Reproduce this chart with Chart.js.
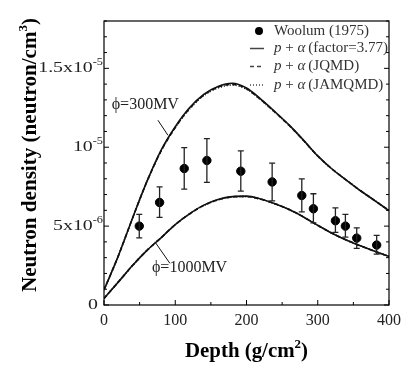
<!DOCTYPE html>
<html>
<head>
<meta charset="utf-8">
<script src="https://cdn.jsdelivr.net/npm/chart.js@4/dist/chart.umd.min.js"></script>
<style>
  html, body { margin: 0; padding: 0; background: #fff; }
  #wrap { width: 404px; height: 377px; }
</style>
</head>
<body>
<div id="wrap"><canvas id="c" width="404" height="377"></canvas></div>
<script>
// values in units of 10^-6 neutron/cm^3
const depthGrid = [0, 20, 40, 60, 80, 100, 120, 140, 160, 180, 200, 220, 240, 260, 280, 300, 320, 340, 360, 380, 400];

const fit300    = [0.95, 3.1, 5.5, 7.8, 9.8, 11.3, 12.5, 13.35, 13.85, 14.05, 13.75, 13.05, 12.25, 11.4, 10.45, 9.45, 8.62, 7.92, 7.24, 6.62, 5.98];
const jqmd300   = [0.95, 3.1, 5.5, 7.8, 9.75, 11.25, 12.45, 13.3, 13.8, 13.98, 13.7, 13.02, 12.22, 11.38, 10.43, 9.44, 8.62, 7.92, 7.24, 6.62, 5.98];
const jamqmd300 = [0.95, 3.1, 5.5, 7.8, 9.75, 11.25, 12.42, 13.27, 13.76, 13.94, 13.68, 13.0, 12.2, 11.37, 10.43, 9.44, 8.62, 7.92, 7.24, 6.62, 5.98];

const fit1000    = [0.42, 1.45, 2.5, 3.45, 4.26, 5.1, 5.78, 6.33, 6.69, 6.87, 6.9, 6.72, 6.42, 6.05, 5.58, 5.05, 4.55, 4.12, 3.75, 3.4, 3.08];
const jqmd1000   = [0.42, 1.45, 2.5, 3.45, 4.26, 5.1, 5.77, 6.31, 6.67, 6.85, 6.88, 6.71, 6.42, 6.05, 5.58, 5.05, 4.55, 4.12, 3.75, 3.4, 3.08];
const jamqmd1000 = [0.42, 1.45, 2.5, 3.45, 4.26, 5.1, 5.77, 6.3, 6.66, 6.84, 6.87, 6.7, 6.41, 6.04, 5.58, 5.05, 4.55, 4.12, 3.75, 3.4, 3.08];

const woolumDepth = [49.5, 78, 112.6, 144.4, 192, 236, 277.6, 293.9, 324.8, 338.8, 354.7, 382.7];
const woolumValue = [5.0, 6.5, 8.65, 9.16, 8.48, 7.8, 6.94, 6.1, 5.34, 5.0, 4.24, 3.8];
const woolumLow   = [4.25, 5.55, 7.34, 7.77, 7.22, 6.6, 5.9, 5.2, 4.6, 4.3, 3.59, 3.23];
const woolumHigh  = [5.74, 7.49, 9.98, 10.55, 9.77, 8.99, 8.0, 7.05, 6.16, 5.74, 4.89, 4.41];

const xTickValues = [0, 100, 200, 300, 400];
const yTickValues = [0, 5, 10, 15];
const yTickMant = ['0', '5x10', '10', '1.5x10'];
const yTickExp  = ['', '-6', '-5', '-5'];

const legendLabels = ['Woolum (1975)', '(factor=3.77)', '(JQMD)', '(JAMQMD)'];

// label anchors in data units
const notes = [
  { text: 'ϕ=300MV',  x: 10.8, y: 12.66, from: [75.7, 11.71], to: [89.7, 10.76] },
  { text: 'ϕ=1000MV', x: 67.3, y: 2.34,  from: [71.5, 4.0],   to: [92.5, 2.64] }
];

const SERIF = "'Liberation Serif', 'Times New Roman', serif";

function pts(xs, ys) { return xs.map((x, i) => ({ x: x, y: ys[i] })); }

function curve(data, dash) {
  return {
    type: 'line', data: pts(depthGrid, data), borderColor: '#111', borderWidth: 1.6,
    borderDash: dash, pointRadius: 0, fill: false, cubicInterpolationMode: 'monotone', order: 2
  };
}

// draw text segments with optional superscript / italic; sx stretches horizontally
function rich(ctx, parts, x, y, size, weight, align, sx) {
  sx = sx || 1;
  let w = 0;
  const fonts = parts.map(p => {
    const s = p.sup ? size * 0.62 : size;
    return (p.it ? 'italic ' : '') + (weight || 'normal') + ' ' + s + 'px ' + SERIF;
  });
  parts.forEach((p, i) => { ctx.font = fonts[i]; w += ctx.measureText(p.t).width; });
  w *= sx;
  const left = align === 'right' ? x - w : align === 'center' ? x - w / 2 : x;
  ctx.save();
  ctx.translate(left, y);
  ctx.scale(sx, 1);
  ctx.textBaseline = 'middle';
  ctx.textAlign = 'left';
  let cx = 0;
  parts.forEach((p, i) => {
    ctx.font = fonts[i];
    ctx.fillText(p.t, cx, p.sup ? -size * 0.36 : 0);
    cx += ctx.measureText(p.t).width;
  });
  ctx.restore();
}

const decor = {
  id: 'decor',
  afterDraw(chart) {
    const ctx = chart.ctx, a = chart.chartArea;
    const xs = chart.scales.x, ys = chart.scales.y;
    ctx.save();

    // error bars
    ctx.strokeStyle = '#222';
    ctx.lineWidth = 1.3;
    woolumDepth.forEach((d, i) => {
      const px = xs.getPixelForValue(d);
      const y1 = ys.getPixelForValue(woolumLow[i]), y2 = ys.getPixelForValue(woolumHigh[i]);
      ctx.beginPath();
      ctx.moveTo(px, y1); ctx.lineTo(px, y2);
      ctx.moveTo(px - 3, y1); ctx.lineTo(px + 3, y1);
      ctx.moveTo(px - 3, y2); ctx.lineTo(px + 3, y2);
      ctx.stroke();
    });

    // frame
    ctx.strokeStyle = '#000';
    ctx.lineWidth = 1.2;
    ctx.strokeRect(a.left, a.top, a.right - a.left, a.bottom - a.top);

    // inward ticks
    ctx.lineWidth = 1;
    for (let v = 0; v <= 400; v += 50) {
      const px = xs.getPixelForValue(v), len = v % 100 === 0 ? 5 : 3;
      ctx.beginPath(); ctx.moveTo(px, a.bottom); ctx.lineTo(px, a.bottom - len); ctx.stroke();
    }
    for (let v = 0; v <= 18; v += 1) {
      const py = ys.getPixelForValue(v), len = v % 5 === 0 ? 5 : 3;
      ctx.beginPath();
      ctx.moveTo(a.left, py); ctx.lineTo(a.left + len, py);
      ctx.moveTo(a.right, py); ctx.lineTo(a.right - len, py);
      ctx.stroke();
    }

    // tick labels
    ctx.fillStyle = '#222';
    ctx.font = '16px ' + SERIF;
    ctx.textAlign = 'center';
    ctx.textBaseline = 'top';
    xTickValues.forEach(v => ctx.fillText(String(v), xs.getPixelForValue(v), a.bottom + 8));
    yTickValues.forEach((v, i) => {
      const parts = [{ t: yTickMant[i] }];
      if (yTickExp[i]) parts.push({ t: yTickExp[i], sup: true });
      rich(ctx, parts, i === 0 ? a.left - 6 : a.left - 1, ys.getPixelForValue(v), 15.5, 'normal', 'right', 1.28);
    });

    // axis titles (stretched to the reference length)
    ctx.fillStyle = '#000';
    const fitW = (parts, size, target) => {
      let w = 0;
      parts.forEach(p => {
        ctx.font = 'bold ' + (p.sup ? size * 0.62 : size) + 'px ' + SERIF;
        w += ctx.measureText(p.t).width;
      });
      return target / w;
    };
    const xt = [{ t: 'Depth (g/cm' }, { t: '2', sup: true }, { t: ')' }];
    rich(ctx, xt, (a.left + a.right) / 2, 352, 21, 'bold', 'center', fitW(xt, 21, 123));
    const yt = [{ t: 'Neutron density (neutron/cm' }, { t: '3', sup: true }, { t: ')' }];
    ctx.save();
    ctx.translate(31, 155);
    ctx.rotate(-Math.PI / 2);
    rich(ctx, yt, 0, 0, 21, 'bold', 'center', fitW(yt, 21, 274));
    ctx.restore();

    // annotations
    ctx.fillStyle = '#222';
    ctx.strokeStyle = '#111';
    ctx.lineWidth = 1;
    notes.forEach(n => {
      ctx.font = '16px ' + SERIF;
      ctx.textAlign = 'left';
      ctx.textBaseline = 'middle';
      ctx.fillText(n.text, xs.getPixelForValue(n.x), ys.getPixelForValue(n.y));
      ctx.beginPath();
      ctx.moveTo(xs.getPixelForValue(n.from[0]), ys.getPixelForValue(n.from[1]));
      ctx.lineTo(xs.getPixelForValue(n.to[0]), ys.getPixelForValue(n.to[1]));
      ctx.stroke();
    });

    // legend
    const lx0 = a.left + 146, lx1 = a.left + 160, tx = a.left + 170;
    const rows = [a.top + 10, a.top + 27.5, a.top + 45.5, a.top + 64];
    ctx.fillStyle = '#000';
    ctx.beginPath(); ctx.arc(a.left + 155, rows[0], 4, 0, Math.PI * 2); ctx.fill();
    const dashes = [[], [4, 3], [1, 2]];
    ctx.strokeStyle = '#444';
    ctx.lineWidth = 1.5;
    for (let i = 1; i < 4; i++) {
      ctx.setLineDash(dashes[i - 1]);
      ctx.beginPath(); ctx.moveTo(lx0, rows[i]); ctx.lineTo(lx1, rows[i]); ctx.stroke();
    }
    ctx.setLineDash([]);
    ctx.fillStyle = '#333';
    rich(ctx, [{ t: legendLabels[0] }], tx, rows[0], 15, 'normal', 'left');
    for (let i = 1; i < 4; i++) {
      rich(ctx, [{ t: 'p', it: true }, { t: ' + ' }, { t: 'α', it: true }, { t: '\u2009' + legendLabels[i] }], tx, rows[i], 15, 'normal', 'left');
    }
    ctx.restore();
  }
};

new Chart(document.getElementById('c').getContext('2d'), {
  type: 'scatter',
  data: {
    datasets: [
      {
        type: 'scatter', data: pts(woolumDepth, woolumValue), backgroundColor: '#000',
        borderColor: '#000', pointRadius: 4.2, pointHoverRadius: 4.2, showLine: false, order: 0
      },
      curve(fit300, []), curve(jqmd300, [4, 3]), curve(jamqmd300, [1, 2]),
      curve(fit1000, []), curve(jqmd1000, [4, 3]), curve(jamqmd1000, [1, 2])
    ]
  },
  options: {
    responsive: false,
    animation: false,
    layout: { padding: { left: 104, right: 15, top: 21, bottom: 72 } },
    plugins: { legend: { display: false }, tooltip: { enabled: false } },
    scales: {
      x: { type: 'linear', min: 0, max: 400, display: false },
      y: { type: 'linear', min: 0, max: 18, display: false }
    }
  },
  plugins: [decor]
});
</script>
</body>
</html>
